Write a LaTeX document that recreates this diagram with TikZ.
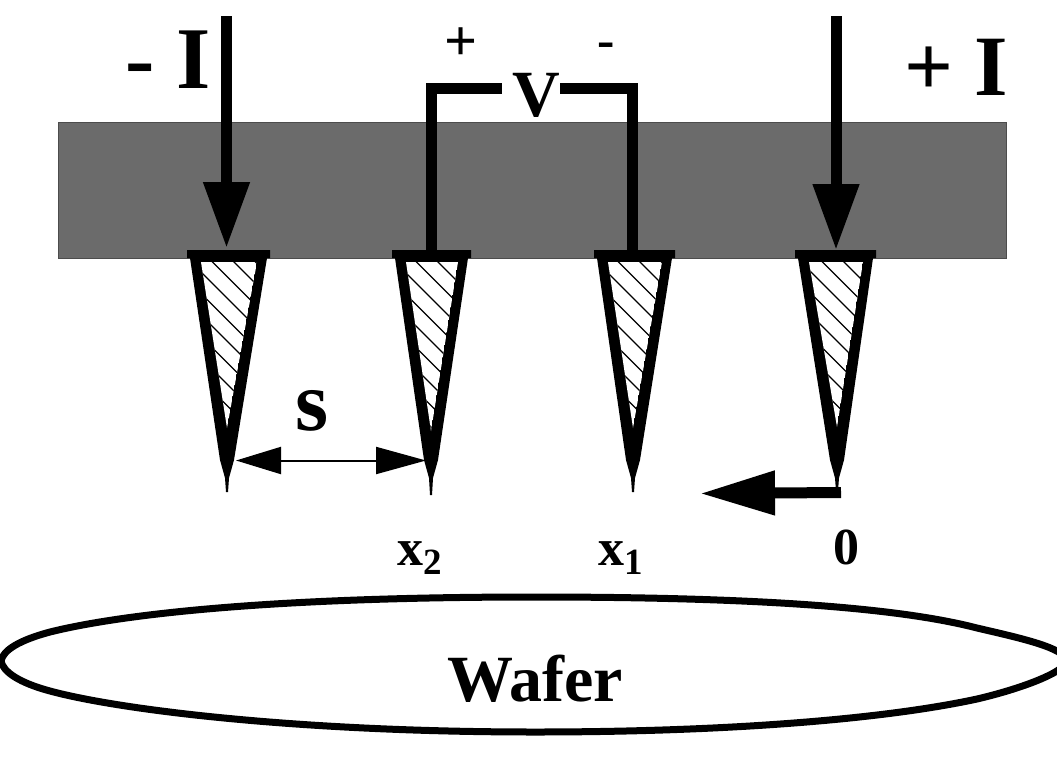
\documentclass[tikz,border=0pt]{standalone}
\usepackage{fontspec}
\setmainfont{Liberation Serif}
\usetikzlibrary{arrows.meta,calc}
\tikzset{
  lbl/.style={inner sep=0pt,font=\bfseries},
  wire/.style={line width=11pt,line cap=butt,line join=miter},
  current/.style={line width=11pt,-{Triangle[length=66pt,width=44pt]}},
  span/.style={line width=2pt,{Triangle[length=45pt,width=27pt]}-{Triangle[length=50pt,width=27pt]}},
  hatch/.style={line width=1.4pt,black},
  wafer/.style={line width=7pt,black,fill=white}
}
\newcommand{\fs}[1]{\fontsize{#1}{#1}\selectfont}
% #1 name, #2 x left of head, #3 top width, #4 apex x, #5 apex y
\newcommand{\probe}[5]{%
  \coordinate (#1top) at ({#2+#3/2},250);
  \coordinate (#1apex) at (#4,#5);
  \fill[black] ({#2-3},250) -- ({#2+#3+3},250) -- ({#2+#3+3},258) -- ({#2+#3},258)
     -- ({#4+7},460) -- ({#4+2},478) -- ({#4+1},#5) -- ({#4-1},#5) -- ({#4-2},478) -- ({#4-7},460) -- (#2,258) -- ({#2-3},258) -- cycle;
  \begin{scope}
    \clip ({#2+11},262) -- ({#2+#3-10},262) -- (#4,{#5-64}) -- cycle;
    \fill[white] ({#2+11},262) -- ({#2+#3-10},262) -- (#4,{#5-64}) -- cycle;
    \foreach \k in {-12,...,4} {
      \draw[hatch] ({#4+\k*21.5},255) -- ({#4+\k*21.5+190},445);
    }
  \end{scope}
}
\begin{document}
\begin{tikzpicture}[x=1pt,y=-1pt]
\useasboundingbox (0,0) rectangle (1057,763);

\node[draw=black!70,line width=1pt,fill=black!58,minimum width=948pt,minimum height=136pt,inner sep=0pt,anchor=north west] (bar) at (58,122) {};

\probe{pa}{190}{77}{227}{492}
\probe{pb}{395}{73}{431}{495}
\probe{pc}{597}{75}{633}{492}
\probe{pd}{798}{75}{837}{491}

\coordinate (ia) at (226.5,16);
\coordinate (id) at (836,16);
\coordinate (ha) at (226.5,248);
\coordinate (hd) at (836,250);
\draw[current] (ia) -- (ha);
\draw[current] (id) -- (hd);

\node[lbl] (minusI) at (168,60) {\fs{88}- I};
\node[lbl] (plusI) at (956,67) {\fs{86}+ I};
\node[lbl] (plus) at (461,44) {\fs{58}+};
\node[lbl] (minus) at (606,50) {\fs{52}-};
\node[lbl] (volt) at (536.5,95) {\fs{66}V};

\coordinate (wb) at (431,252);
\coordinate (wc) at (632,252);
\draw[wire] (wb) -- (431,88) -- (502,88);
\draw[wire] (wc) -- (632,88) -- (560,88);

\node[lbl] (sp) at (312,411) {\fs{85}s};
\coordinate (sa) at (236,460.5);
\coordinate (sb) at (426,460.5);
\draw[span] (sa) -- (sb);

\coordinate (oa) at (841,492.5);
\coordinate (ob) at (700,493.5);
\draw[line width=11pt,-{Triangle[length=75pt,width=42pt]}] (oa) -- (ob);

\node[lbl,anchor=base west] (xb) at (397,565) {\fs{52}x\raisebox{-9pt}{\fs{37}2}};
\node[lbl,anchor=base west] (xa) at (598,565) {\fs{52}x\raisebox{-9pt}{\fs{37}1}};
\node[lbl] (zero) at (846,547) {\fs{52}0};

\draw[wafer] (1,661)
  .. controls (3,650) and (20,640) .. (50,632)
  .. controls (110,617) and (250,597) .. (535,597)
  .. controls (760,597) and (900,608) .. (977,628)
  .. controls (1020,638) and (1066,648) .. (1066,661)
  .. controls (1066,672) and (1020,689) .. (977,699)
  .. controls (880,720) and (720,732) .. (535,732)
  .. controls (300,732) and (120,710) .. (50,691)
  .. controls (20,683) and (3,672) .. (1,661) -- cycle;
\node[lbl] (wname) at (535,679) {\fs{66}Wafer};
\end{tikzpicture}
\end{document}
